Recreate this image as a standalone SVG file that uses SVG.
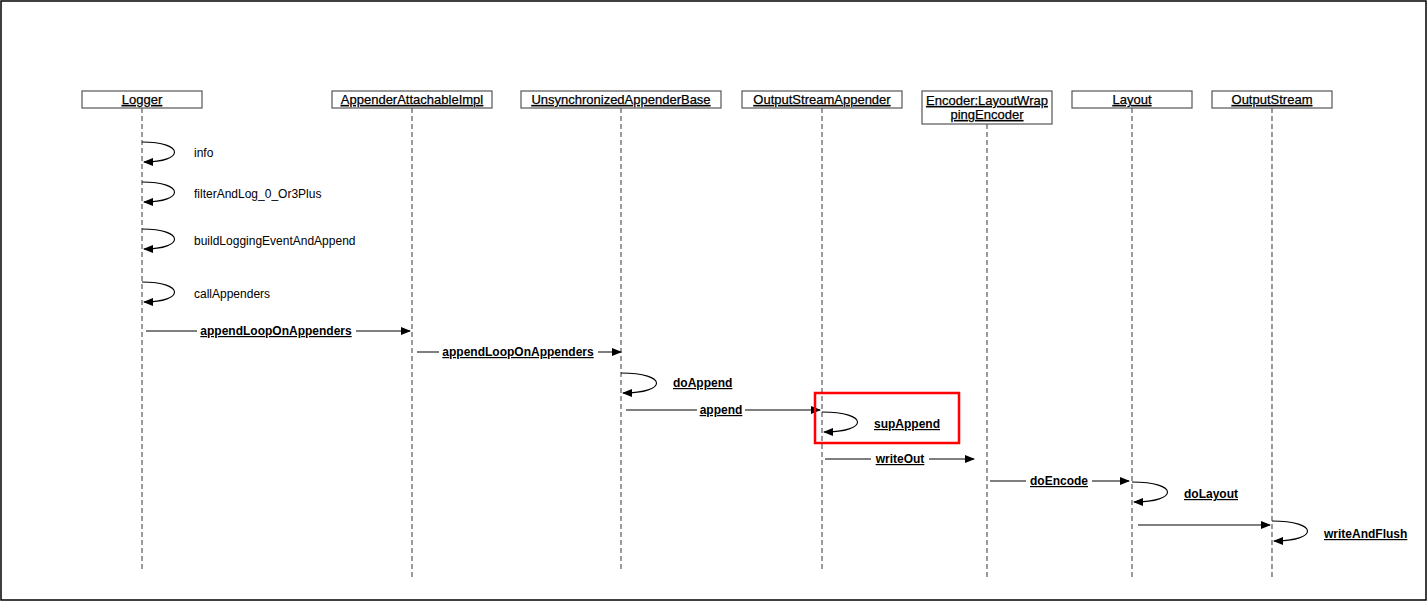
<svg xmlns="http://www.w3.org/2000/svg" width="1428" height="602" viewBox="0 0 1428 602">
<style>
text{font-family:"Liberation Sans",Arial,sans-serif;font-size:12px;fill:#000}
.n rect{fill:#fff;stroke:#555;stroke-width:1.2}
.n text{text-anchor:middle;text-decoration:underline;font-size:13px;stroke:#000;stroke-width:0.25}
.life{stroke:#666;stroke-width:1.3;stroke-dasharray:5,3;fill:none}
.m{stroke:#000;stroke-width:1.1;fill:none}
.lb{text-decoration:underline;font-weight:bold;font-size:12px}
.lbc{text-anchor:middle}
.bg{fill:#fff}
</style>
<defs><marker id="a" markerWidth="10" markerHeight="8" refX="9" refY="4" orient="auto" markerUnits="userSpaceOnUse"><path d="M0,0L10,4L0,8z" fill="#000"/></marker></defs>
<rect x="1" y="1" width="1425" height="599" fill="#fff" stroke="#000" stroke-width="1.5"/>
<g id="lifelines">
<line class="life" x1="142" y1="108" x2="142" y2="570"/>
<line class="life" x1="412" y1="108" x2="412" y2="580"/>
<line class="life" x1="621" y1="108" x2="621" y2="570"/>
<line class="life" x1="822" y1="108" x2="822" y2="570"/>
<line class="life" x1="987" y1="124" x2="987" y2="580"/>
<line class="life" x1="1132" y1="108" x2="1132" y2="580"/>
<line class="life" x1="1272" y1="108" x2="1272" y2="580"/>
</g>
<g id="n-logger" class="n"><rect x="82" y="91" width="120" height="17"/><text x="142" y="104">Logger</text></g>
<g id="n-aai" class="n"><rect x="332" y="91" width="160" height="17"/><text x="412" y="104">AppenderAttachableImpl</text></g>
<g id="n-uab" class="n"><rect x="521" y="91" width="200" height="17"/><text x="621" y="104">UnsynchronizedAppenderBase</text></g>
<g id="n-osa" class="n"><rect x="742" y="91" width="160" height="17"/><text x="822" y="104">OutputStreamAppender</text></g>
<g id="n-enc" class="n"><rect x="922" y="91" width="130" height="33"/><text x="987" y="105">Encoder:LayoutWrap</text><text x="987" y="119">pingEncoder</text></g>
<g id="n-layout" class="n"><rect x="1072" y="91" width="120" height="17"/><text x="1132" y="104">Layout</text></g>
<g id="n-os" class="n"><rect x="1212" y="91" width="120" height="17"/><text x="1272" y="104">OutputStream</text></g>
<g id="connectors">
<path class="m" d="M142,142C185,142 185,162 144,162" marker-end="url(#a)"/>
<path class="m" d="M142,182C185,182 185,202 144,202" marker-end="url(#a)"/>
<path class="m" d="M142,229C185,229 185,249 144,249" marker-end="url(#a)"/>
<path class="m" d="M142,282C185,282 185,302 144,302" marker-end="url(#a)"/>
<line class="m" x1="146" y1="331" x2="410" y2="331" marker-end="url(#a)"/>
<line class="m" x1="417" y1="352" x2="621" y2="352" marker-end="url(#a)"/>
<path class="m" d="M621,373C668,373 668,393 623,393" marker-end="url(#a)"/>
<line class="m" x1="626" y1="410" x2="820" y2="410" marker-end="url(#a)"/>
<path class="m" d="M822,412C869,412 869,432 824,432" marker-end="url(#a)"/>
<line class="m" x1="825" y1="459" x2="974" y2="459" marker-end="url(#a)"/>
<line class="m" x1="990" y1="481" x2="1129" y2="481" marker-end="url(#a)"/>
<path class="m" d="M1132,482C1179,482 1179,502 1134,502" marker-end="url(#a)"/>
<line class="m" x1="1138" y1="525" x2="1270" y2="525" marker-end="url(#a)"/>
<path class="m" d="M1272,521C1319,521 1319,541 1274,541" marker-end="url(#a)"/>
</g>
<g id="labels">
<text x="194" y="157">info</text>
<text x="194" y="198">filterAndLog_0_Or3Plus</text>
<text x="194" y="245">buildLoggingEventAndAppend</text>
<text x="194" y="298">callAppenders</text>
<rect class="bg" x="197" y="323" width="159" height="15"/><text class="lb lbc" x="276" y="335">appendLoopOnAppenders</text>
<rect class="bg" x="439" y="344" width="159" height="15"/><text class="lb lbc" x="518" y="356">appendLoopOnAppenders</text>
<text class="lb" x="673" y="387">doAppend</text>
<rect class="bg" x="697" y="402" width="48" height="15"/><text class="lb lbc" x="721" y="414">append</text>
<text class="lb" x="874" y="428">supAppend</text>
<rect class="bg" x="871" y="451" width="58" height="15"/><text class="lb lbc" x="900" y="463">writeOut</text>
<rect class="bg" x="1026" y="473" width="66" height="15"/><text class="lb lbc" x="1059" y="485">doEncode</text>
<text class="lb" x="1184" y="498">doLayout</text>
<text class="lb" x="1324" y="538">writeAndFlush</text>
</g>
<rect x="815" y="393" width="144" height="50" fill="none" stroke="#f00" stroke-width="2.5"/>
</svg>
